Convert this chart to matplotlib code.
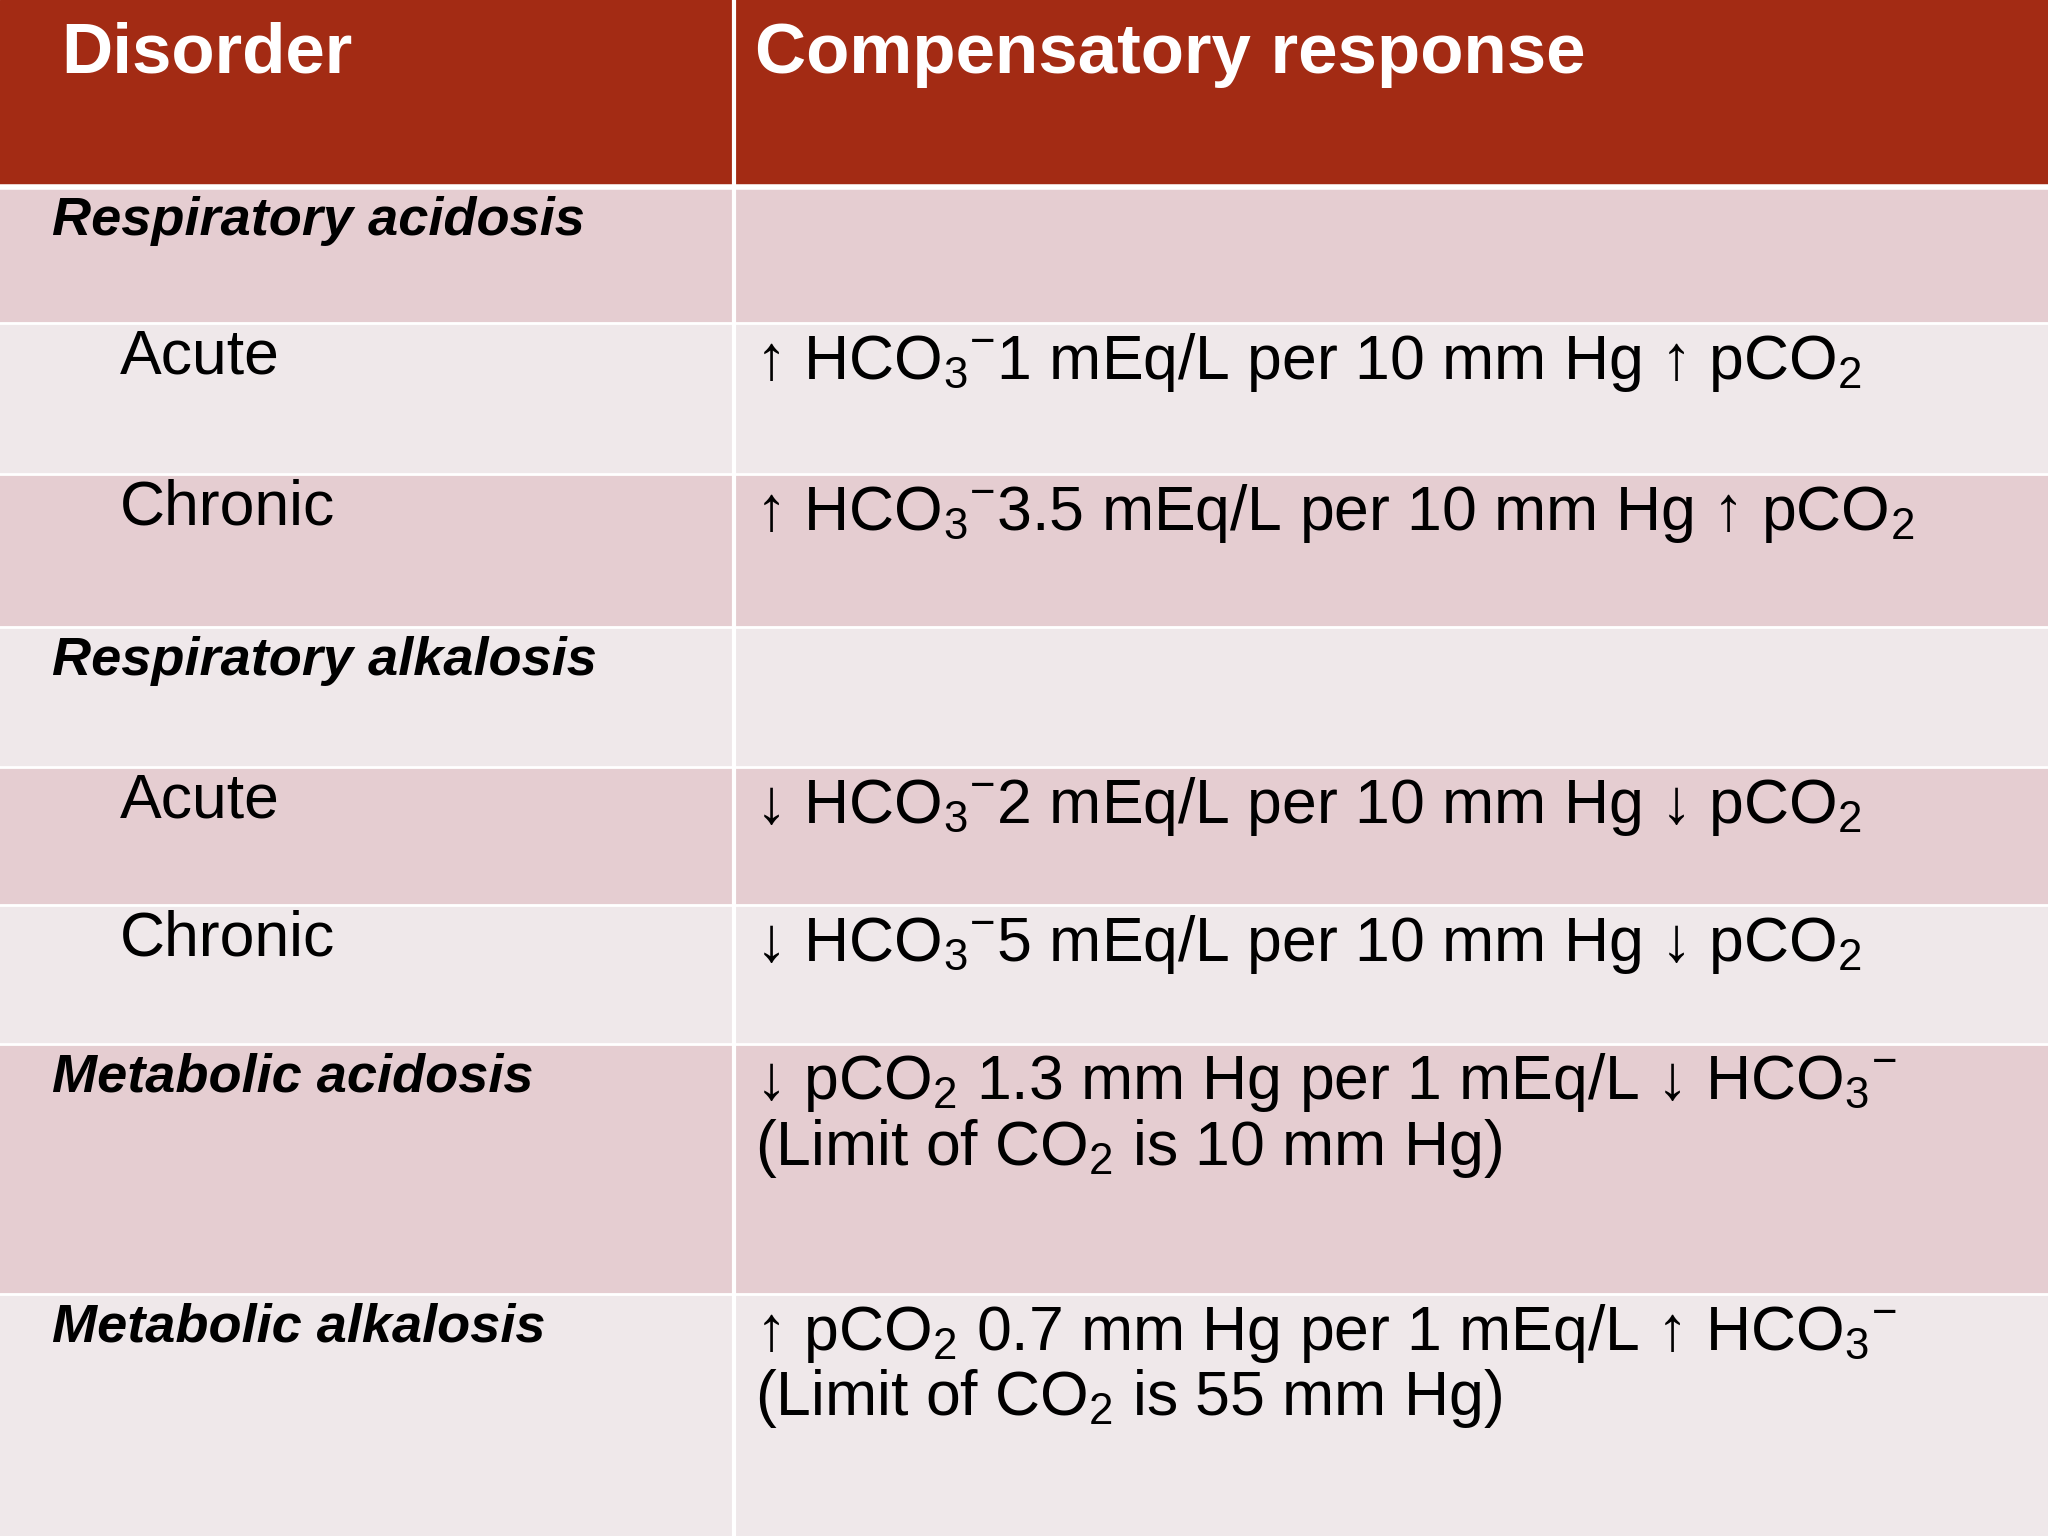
import matplotlib
matplotlib.use("Agg")
import matplotlib.pyplot as plt
from matplotlib.patches import Rectangle

plt.rcParams['mathtext.fontset'] = 'custom'
plt.rcParams['mathtext.rm'] = 'Liberation Sans'
plt.rcParams['mathtext.it'] = 'Liberation Sans:italic'

headers = ["Disorder", "Compensatory response"]
disorders = ["Respiratory acidosis", "Acute", "Chronic", "Respiratory alkalosis",
             "Acute", "Chronic", "Metabolic acidosis", "Metabolic alkalosis"]
is_group = [True, False, False, True, False, False, True, True]
H = r"$\mathregular{HCO_3{}^{-}}$"
P = r"$\mathregular{pCO_2}$"
C = r"$\mathregular{CO_2}$"
responses = ["",
             f"↑ {H}1 mEq/L per 10 mm Hg ↑ {P}",
             f"↑ {H}3.5 mEq/L per 10 mm Hg ↑ {P}",
             "",
             f"↓ {H}2 mEq/L per 10 mm Hg ↓ {P}",
             f"↓ {H}5 mEq/L per 10 mm Hg ↓ {P}",
             f"↓ {P} 1.3 mm Hg per 1 mEq/L ↓ {H}\n(Limit of {C} is 10 mm Hg)",
             f"↑ {P} 0.7 mm Hg per 1 mEq/L ↑ {H}\n(Limit of {C} is 55 mm Hg)"]
row_edges = [143, 247, 362, 479, 586, 691, 797, 988, 1173]

W, Ht = 1568, 1173
fig = plt.figure(figsize=(20.48, 15.36), dpi=100)
ax = fig.add_axes([0, 0, 1, 1])
ax.set_xlim(0, W); ax.set_ylim(Ht, 0); ax.axis('off')
fam = ['Liberation Sans', 'DejaVu Sans']
colx = 562
ax.add_patch(Rectangle((0, 0), W, 143, color='#A32B14'))
ax.plot([colx, colx], [0, 143], color='white', lw=3)
ax.text(47, 42, headers[0], color='white', fontsize=51, fontweight='bold', family=fam, va='center')
ax.text(578, 42, headers[1], color='white', fontsize=51, fontweight='bold', family=fam, va='center')
ax.plot([0, W], [143, 143], color='white', lw=4)
for i in range(len(disorders)):
    y0, y1 = row_edges[i], row_edges[i + 1]
    col = '#E5CDD1' if i % 2 == 0 else '#EFE8EA'
    ax.add_patch(Rectangle((0, y0), W, y1 - y0, color=col))
    ax.plot([0, W], [y0, y0], color='white', lw=2)
    if is_group[i]:
        ax.text(40, y0 + 26, disorders[i], fontsize=39, fontweight='bold', fontstyle='italic',
                family=fam, va='center')
    else:
        ax.text(92, y0 + 26, disorders[i], fontsize=45, family=fam, va='center')
    if responses[i]:
        ax.text(578, y0 + 6, responses[i], fontsize=45, family=fam, va='top', linespacing=1.05)
ax.plot([colx, colx], [143, Ht], color='white', lw=3)
fig.savefig("out.png", dpi=100)
